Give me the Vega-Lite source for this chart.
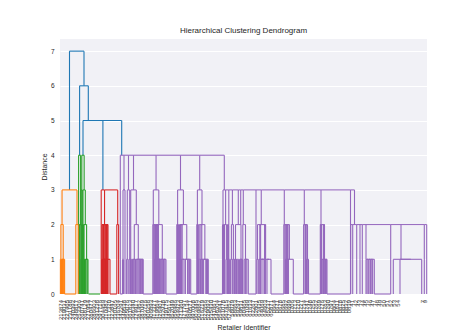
{
  "$schema": "https://vega.github.io/schema/vega-lite/v6.json",
  "width": 367,
  "height": 255,
  "autosize": "none",
  "padding": {"left": 60, "top": 39, "right": 47, "bottom": 37},
  "background": "white",
  "title": {"text": "Hierarchical Clustering Dendrogram", "fontSize": 8, "fontWeight": "normal", "color": "#262626", "font": "Liberation Sans", "frame": "group", "offset": 4},
  "config": {
    "view": {"fill": "#F1F1F6", "stroke": null},
    "font": "Liberation Sans",
    "axis": {"labelFont": "Liberation Sans", "titleFont": "Liberation Sans", "labelColor": "#262626", "titleColor": "#262626", "titleFontWeight": "normal", "ticks": false, "domain": false, "gridColor": "#ffffff", "gridWidth": 1},
    "axisX": {"labels": false, "grid": false, "titleFontSize": 7, "titlePadding": 29},
    "axisY": {"labelFontSize": 6.5, "titleFontSize": 7, "labelPadding": 6, "titlePadding": 3, "tickCount": 8, "labelOverlap": false}
  },
  "datasets": {
    "links": [
      {"a": 9.5, "ya": 3, "b": 24, "yb": 6, "h": 7, "c": "C0"},
      {"a": 19.6, "ya": 4, "b": 28.3, "yb": 5, "h": 6, "c": "C0"},
      {"a": 23.0, "ya": 4, "b": 42.9, "yb": 3, "h": 5, "c": "C0"},
      {"a": 28.3, "ya": 5, "b": 61.7, "yb": 4, "h": 5, "c": "C0"},
      {"a": 0.4, "ya": 0, "b": 1.4, "yb": 0, "h": 1, "c": "C1"},
      {"a": 1.8, "ya": 0, "b": 4.6, "yb": 0, "h": 1, "c": "C1"},
      {"a": 2.4, "ya": 0, "b": 3.4, "yb": 0, "h": 1, "c": "C1"},
      {"a": 0.9, "ya": 1, "b": 3.2, "yb": 1, "h": 2, "c": "C1"},
      {"a": 15.8, "ya": 0, "b": 18.2, "yb": 0, "h": 2, "c": "C1"},
      {"a": 2.05, "ya": 2, "b": 17.0, "yb": 2, "h": 3, "c": "C1"},
      {"a": 4.6, "ya": 0, "b": 15.8, "yb": 0, "h": 0, "c": "C1"},
      {"a": 18.6, "ya": 0, "b": 20.6, "yb": 2, "h": 4, "c": "C2"},
      {"a": 19.1, "ya": 0, "b": 19.7, "yb": 0, "h": 2, "c": "C2"},
      {"a": 20.0, "ya": 0, "b": 21.2, "yb": 0, "h": 2, "c": "C2"},
      {"a": 21.8, "ya": 3, "b": 24.15, "yb": 3, "h": 4, "c": "C2"},
      {"a": 21.3, "ya": 1, "b": 22.3, "yb": 0, "h": 3, "c": "C2"},
      {"a": 20.9, "ya": 0, "b": 21.7, "yb": 0, "h": 1, "c": "C2"},
      {"a": 23.0, "ya": 2, "b": 25.3, "yb": 2, "h": 3, "c": "C2"},
      {"a": 22.4, "ya": 0, "b": 23.6, "yb": 0, "h": 2, "c": "C2"},
      {"a": 24.0, "ya": 0, "b": 26.6, "yb": 1, "h": 2, "c": "C2"},
      {"a": 24.6, "ya": 0, "b": 25.0, "yb": 0, "h": 1, "c": "C2"},
      {"a": 25.2, "ya": 0, "b": 28.0, "yb": 0, "h": 1, "c": "C2"},
      {"a": 26.0, "ya": 0, "b": 27.2, "yb": 0, "h": 1, "c": "C2"},
      {"a": 28.6, "ya": 0, "b": 40.0, "yb": 0, "h": 0, "c": "C2"},
      {"a": 41.6, "ya": 0, "b": 42.4, "yb": 0, "h": 1, "c": "C3"},
      {"a": 43.0, "ya": 0, "b": 45.4, "yb": 0, "h": 1, "c": "C3"},
      {"a": 43.8, "ya": 0, "b": 44.8, "yb": 0, "h": 1, "c": "C3"},
      {"a": 44.2, "ya": 1, "b": 50.0, "yb": 0, "h": 1, "c": "C3"},
      {"a": 46.0, "ya": 0, "b": 47.6, "yb": 0, "h": 1, "c": "C3"},
      {"a": 42.8, "ya": 0, "b": 43.5, "yb": 0, "h": 2, "c": "C3"},
      {"a": 44.1, "ya": 0, "b": 45.0, "yb": 0, "h": 2, "c": "C3"},
      {"a": 45.7, "ya": 0, "b": 46.5, "yb": 0, "h": 2, "c": "C3"},
      {"a": 47.0, "ya": 0, "b": 48.0, "yb": 0, "h": 2, "c": "C3"},
      {"a": 42.0, "ya": 1, "b": 47.1, "yb": 1, "h": 2, "c": "C3"},
      {"a": 41.2, "ya": 0, "b": 44.55, "yb": 2, "h": 3, "c": "C3"},
      {"a": 56.8, "ya": 0, "b": 58.6, "yb": 0, "h": 2, "c": "C3"},
      {"a": 44.55, "ya": 3, "b": 57.7, "yb": 2, "h": 3, "c": "C3"},
      {"a": 50.0, "ya": 0, "b": 56.8, "yb": 0, "h": 0, "c": "C3"},
      {"a": 60.3, "ya": 0, "b": 64.0, "yb": 3, "h": 4, "c": "C4"},
      {"a": 63.0, "ya": 1, "b": 65.0, "yb": 0, "h": 3, "c": "C4"},
      {"a": 62.5, "ya": 0, "b": 63.5, "yb": 0, "h": 1, "c": "C4"},
      {"a": 64.0, "ya": 4, "b": 68.5, "yb": 3, "h": 4, "c": "C4"},
      {"a": 67.3, "ya": 1, "b": 69.7, "yb": 1, "h": 3, "c": "C4"},
      {"a": 66.6, "ya": 0, "b": 68.0, "yb": 0, "h": 1, "c": "C4"},
      {"a": 69.0, "ya": 0, "b": 70.4, "yb": 0, "h": 1, "c": "C4"},
      {"a": 68.5, "ya": 4, "b": 73.5, "yb": 3, "h": 4, "c": "C4"},
      {"a": 70.7, "ya": 1, "b": 76.3, "yb": 2, "h": 3, "c": "C4"},
      {"a": 70.2, "ya": 0, "b": 71.2, "yb": 0, "h": 1, "c": "C4"},
      {"a": 71.8, "ya": 0, "b": 72.6, "yb": 0, "h": 1, "c": "C4"},
      {"a": 74.3, "ya": 1, "b": 78.3, "yb": 1, "h": 2, "c": "C4"},
      {"a": 73.0, "ya": 0, "b": 75.6, "yb": 0, "h": 1, "c": "C4"},
      {"a": 73.8, "ya": 0, "b": 74.8, "yb": 0, "h": 1, "c": "C4"},
      {"a": 76.0, "ya": 0, "b": 80.6, "yb": 1, "h": 1, "c": "C4"},
      {"a": 77.0, "ya": 0, "b": 78.0, "yb": 0, "h": 1, "c": "C4"},
      {"a": 79.0, "ya": 0, "b": 82.2, "yb": 1, "h": 1, "c": "C4"},
      {"a": 79.8, "ya": 0, "b": 80.4, "yb": 0, "h": 1, "c": "C4"},
      {"a": 81.2, "ya": 0, "b": 83.2, "yb": 0, "h": 1, "c": "C4"},
      {"a": 82.0, "ya": 0, "b": 82.6, "yb": 0, "h": 1, "c": "C4"},
      {"a": 73.5, "ya": 4, "b": 96.05, "yb": 3, "h": 4, "c": "C4"},
      {"a": 92.8, "ya": 0, "b": 93.8, "yb": 0, "h": 2, "c": "C4"},
      {"a": 94.0, "ya": 0, "b": 94.9, "yb": 0, "h": 2, "c": "C4"},
      {"a": 94.6, "ya": 0, "b": 96.0, "yb": 0, "h": 1, "c": "C4"},
      {"a": 95.6, "ya": 0, "b": 96.3, "yb": 0, "h": 2, "c": "C4"},
      {"a": 96.6, "ya": 0, "b": 97.6, "yb": 0, "h": 2, "c": "C4"},
      {"a": 97.9, "ya": 0, "b": 98.4, "yb": 0, "h": 2, "c": "C4"},
      {"a": 97.0, "ya": 0, "b": 100.2, "yb": 0, "h": 1, "c": "C4"},
      {"a": 99.4, "ya": 0, "b": 100.0, "yb": 0, "h": 1, "c": "C4"},
      {"a": 98.6, "ya": 1, "b": 106.0, "yb": 0, "h": 1, "c": "C4"},
      {"a": 101.2, "ya": 0, "b": 103.4, "yb": 0, "h": 1, "c": "C4"},
      {"a": 102.0, "ya": 0, "b": 102.8, "yb": 0, "h": 1, "c": "C4"},
      {"a": 104.0, "ya": 0, "b": 105.0, "yb": 0, "h": 1, "c": "C4"},
      {"a": 95.3, "ya": 1, "b": 102.3, "yb": 1, "h": 2, "c": "C4"},
      {"a": 93.3, "ya": 2, "b": 98.8, "yb": 2, "h": 3, "c": "C4"},
      {"a": 96.05, "ya": 4, "b": 120.5, "yb": 3, "h": 4, "c": "C4"},
      {"a": 116.8, "ya": 0, "b": 118.4, "yb": 0, "h": 2, "c": "C4"},
      {"a": 117.4, "ya": 0, "b": 118.0, "yb": 0, "h": 2, "c": "C4"},
      {"a": 119.2, "ya": 0, "b": 120.8, "yb": 0, "h": 1, "c": "C4"},
      {"a": 119.6, "ya": 0, "b": 120.4, "yb": 0, "h": 2, "c": "C4"},
      {"a": 121.2, "ya": 0, "b": 122.2, "yb": 0, "h": 2, "c": "C4"},
      {"a": 121.6, "ya": 0, "b": 124.0, "yb": 0, "h": 1, "c": "C4"},
      {"a": 122.8, "ya": 1, "b": 130.7, "yb": 0, "h": 1, "c": "C4"},
      {"a": 125.4, "ya": 0, "b": 127.6, "yb": 0, "h": 1, "c": "C4"},
      {"a": 128.2, "ya": 0, "b": 129.4, "yb": 0, "h": 1, "c": "C4"},
      {"a": 120.0, "ya": 1, "b": 126.75, "yb": 1, "h": 2, "c": "C4"},
      {"a": 117.6, "ya": 2, "b": 123.4, "yb": 2, "h": 3, "c": "C4"},
      {"a": 120.5, "ya": 4, "b": 139.7, "yb": 3, "h": 4, "c": "C4"},
      {"a": 136.8, "ya": 0, "b": 138.0, "yb": 0, "h": 2, "c": "C4"},
      {"a": 137.4, "ya": 0, "b": 138.2, "yb": 0, "h": 2, "c": "C4"},
      {"a": 138.6, "ya": 0, "b": 139.8, "yb": 0, "h": 1, "c": "C4"},
      {"a": 140.4, "ya": 0, "b": 142.4, "yb": 0, "h": 1, "c": "C4"},
      {"a": 140.9, "ya": 0, "b": 141.8, "yb": 0, "h": 2, "c": "C4"},
      {"a": 141.4, "ya": 1, "b": 148.3, "yb": 0, "h": 1, "c": "C4"},
      {"a": 143.6, "ya": 0, "b": 145.8, "yb": 0, "h": 1, "c": "C4"},
      {"a": 146.5, "ya": 0, "b": 147.5, "yb": 0, "h": 1, "c": "C4"},
      {"a": 139.2, "ya": 1, "b": 144.85, "yb": 1, "h": 2, "c": "C4"},
      {"a": 137.4, "ya": 2, "b": 142.0, "yb": 2, "h": 3, "c": "C4"},
      {"a": 139.7, "ya": 4, "b": 164.3, "yb": 3, "h": 4, "c": "C4"},
      {"a": 163.0, "ya": 2, "b": 165.6, "yb": 2, "h": 3, "c": "C4"},
      {"a": 162.5, "ya": 0, "b": 163.5, "yb": 0, "h": 2, "c": "C4"},
      {"a": 163.8, "ya": 0, "b": 164.3, "yb": 0, "h": 2, "c": "C4"},
      {"a": 164.6, "ya": 0, "b": 166.6, "yb": 1, "h": 2, "c": "C4"},
      {"a": 166.0, "ya": 0, "b": 167.2, "yb": 0, "h": 1, "c": "C4"},
      {"a": 165.6, "ya": 3, "b": 168.8, "yb": 1, "h": 3, "c": "C4"},
      {"a": 167.6, "ya": 0, "b": 168.4, "yb": 0, "h": 2, "c": "C4"},
      {"a": 168.0, "ya": 0, "b": 169.6, "yb": 0, "h": 1, "c": "C4"},
      {"a": 168.8, "ya": 3, "b": 172.4, "yb": 2, "h": 3, "c": "C4"},
      {"a": 171.4, "ya": 1, "b": 173.4, "yb": 1, "h": 2, "c": "C4"},
      {"a": 170.6, "ya": 0, "b": 172.2, "yb": 0, "h": 1, "c": "C4"},
      {"a": 172.8, "ya": 0, "b": 174.0, "yb": 0, "h": 1, "c": "C4"},
      {"a": 172.4, "ya": 3, "b": 178.3, "yb": 2, "h": 3, "c": "C4"},
      {"a": 175.5, "ya": 1, "b": 181.0, "yb": 1, "h": 2, "c": "C4"},
      {"a": 174.4, "ya": 0, "b": 176.6, "yb": 0, "h": 1, "c": "C4"},
      {"a": 175.2, "ya": 0, "b": 176.0, "yb": 0, "h": 1, "c": "C4"},
      {"a": 177.2, "ya": 0, "b": 178.6, "yb": 0, "h": 1, "c": "C4"},
      {"a": 179.6, "ya": 0, "b": 182.4, "yb": 0, "h": 1, "c": "C4"},
      {"a": 180.4, "ya": 0, "b": 181.6, "yb": 0, "h": 1, "c": "C4"},
      {"a": 178.3, "ya": 3, "b": 180.7, "yb": 2, "h": 3, "c": "C4"},
      {"a": 180.7, "ya": 3, "b": 183.3, "yb": 2, "h": 3, "c": "C4"},
      {"a": 182.8, "ya": 0, "b": 185.5, "yb": 1, "h": 2, "c": "C4"},
      {"a": 184.2, "ya": 0, "b": 186.8, "yb": 0, "h": 1, "c": "C4"},
      {"a": 185.6, "ya": 0, "b": 188.3, "yb": 0, "h": 1, "c": "C4"},
      {"a": 183.3, "ya": 3, "b": 196.0, "yb": 0, "h": 3, "c": "C4"},
      {"a": 196.0, "ya": 3, "b": 201.25, "yb": 2, "h": 3, "c": "C4"},
      {"a": 196.8, "ya": 0, "b": 198.2, "yb": 0, "h": 1, "c": "C4"},
      {"a": 199.0, "ya": 0, "b": 203.0, "yb": 1, "h": 1, "c": "C4"},
      {"a": 199.8, "ya": 0, "b": 200.6, "yb": 0, "h": 2, "c": "C4"},
      {"a": 202.0, "ya": 0, "b": 204.0, "yb": 0, "h": 1, "c": "C4"},
      {"a": 204.6, "ya": 0, "b": 205.6, "yb": 0, "h": 2, "c": "C4"},
      {"a": 207.0, "ya": 0, "b": 211.0, "yb": 0, "h": 1, "c": "C4"},
      {"a": 201.0, "ya": 1, "b": 209.0, "yb": 1, "h": 1, "c": "C4"},
      {"a": 197.5, "ya": 1, "b": 205.0, "yb": 1, "h": 2, "c": "C4"},
      {"a": 201.25, "ya": 3, "b": 224.3, "yb": 2, "h": 3, "c": "C4"},
      {"a": 223.8, "ya": 0, "b": 224.8, "yb": 0, "h": 2, "c": "C4"},
      {"a": 225.8, "ya": 0, "b": 226.4, "yb": 0, "h": 2, "c": "C4"},
      {"a": 227.4, "ya": 0, "b": 228.0, "yb": 0, "h": 2, "c": "C4"},
      {"a": 224.8, "ya": 2, "b": 229.4, "yb": 1, "h": 2, "c": "C4"},
      {"a": 225.5, "ya": 0, "b": 233.3, "yb": 0, "h": 1, "c": "C4"},
      {"a": 226.8, "ya": 0, "b": 228.4, "yb": 0, "h": 1, "c": "C4"},
      {"a": 224.3, "ya": 3, "b": 244.3, "yb": 2, "h": 3, "c": "C4"},
      {"a": 243.6, "ya": 0, "b": 245.0, "yb": 0, "h": 2, "c": "C4"},
      {"a": 245.6, "ya": 0, "b": 246.2, "yb": 0, "h": 2, "c": "C4"},
      {"a": 245.0, "ya": 2, "b": 247.5, "yb": 1, "h": 2, "c": "C4"},
      {"a": 246.5, "ya": 0, "b": 248.5, "yb": 0, "h": 1, "c": "C4"},
      {"a": 247.0, "ya": 0, "b": 247.8, "yb": 0, "h": 1, "c": "C4"},
      {"a": 244.3, "ya": 3, "b": 261.0, "yb": 2, "h": 3, "c": "C4"},
      {"a": 260.3, "ya": 0, "b": 261.7, "yb": 0, "h": 2, "c": "C4"},
      {"a": 260.8, "ya": 0, "b": 261.3, "yb": 0, "h": 2, "c": "C4"},
      {"a": 263.6, "ya": 0, "b": 264.3, "yb": 0, "h": 2, "c": "C4"},
      {"a": 261.7, "ya": 2, "b": 264.5, "yb": 1, "h": 2, "c": "C4"},
      {"a": 262.0, "ya": 0, "b": 267.0, "yb": 0, "h": 1, "c": "C4"},
      {"a": 263.0, "ya": 0, "b": 265.0, "yb": 0, "h": 1, "c": "C4"},
      {"a": 265.6, "ya": 0, "b": 266.3, "yb": 0, "h": 1, "c": "C4"},
      {"a": 261.0, "ya": 3, "b": 290.5, "yb": 0, "h": 3, "c": "C4"},
      {"a": 290.5, "ya": 3, "b": 294.5, "yb": 2, "h": 3, "c": "C4"},
      {"a": 290.7, "ya": 0, "b": 292.7, "yb": 0, "h": 2, "c": "C4"},
      {"a": 292.7, "ya": 2, "b": 296.7, "yb": 0, "h": 2, "c": "C4"},
      {"a": 296.7, "ya": 2, "b": 300.0, "yb": 0, "h": 2, "c": "C4"},
      {"a": 300.0, "ya": 2, "b": 302.3, "yb": 0, "h": 2, "c": "C4"},
      {"a": 302.3, "ya": 2, "b": 306.0, "yb": 1, "h": 2, "c": "C4"},
      {"a": 306.0, "ya": 0, "b": 314.3, "yb": 0, "h": 1, "c": "C4"},
      {"a": 307.0, "ya": 0, "b": 308.2, "yb": 0, "h": 1, "c": "C4"},
      {"a": 309.0, "ya": 0, "b": 310.4, "yb": 0, "h": 1, "c": "C4"},
      {"a": 311.2, "ya": 0, "b": 312.6, "yb": 0, "h": 1, "c": "C4"},
      {"a": 306.0, "ya": 2, "b": 330.7, "yb": 0, "h": 2, "c": "C4"},
      {"a": 330.7, "ya": 2, "b": 341.0, "yb": 1, "h": 2, "c": "C4"},
      {"a": 333.3, "ya": 0, "b": 350.85, "yb": 1, "h": 1, "c": "C4"},
      {"a": 340.0, "ya": 0, "b": 361.7, "yb": 0, "h": 1, "c": "C4"},
      {"a": 341.0, "ya": 2, "b": 364.3, "yb": 0, "h": 2, "c": "C4"},
      {"a": 364.3, "ya": 2, "b": 366.7, "yb": 0, "h": 2, "c": "C4"},
      {"a": 60.3, "ya": 0, "b": 62.5, "yb": 0, "h": 0, "c": "C4"},
      {"a": 83.2, "ya": 0, "b": 92.8, "yb": 0, "h": 0, "c": "C4"},
      {"a": 106.0, "ya": 0, "b": 116.8, "yb": 0, "h": 0, "c": "C4"},
      {"a": 130.7, "ya": 0, "b": 136.8, "yb": 0, "h": 0, "c": "C4"},
      {"a": 148.3, "ya": 0, "b": 162.5, "yb": 0, "h": 0, "c": "C4"},
      {"a": 188.3, "ya": 0, "b": 196.0, "yb": 0, "h": 0, "c": "C4"},
      {"a": 211.0, "ya": 0, "b": 223.8, "yb": 0, "h": 0, "c": "C4"},
      {"a": 233.3, "ya": 0, "b": 243.6, "yb": 0, "h": 0, "c": "C4"},
      {"a": 248.5, "ya": 0, "b": 260.3, "yb": 0, "h": 0, "c": "C4"},
      {"a": 267.0, "ya": 0, "b": 290.5, "yb": 0, "h": 0, "c": "C4"},
      {"a": 314.3, "ya": 0, "b": 330.7, "yb": 0, "h": 0, "c": "C4"}
    ],
    "leaves": [
      {"p": 1, "id": "213874"}, {"p": 4, "id": "219031"}, {"p": 7, "id": "227465"}, {"p": 10, "id": "231188"},
      {"p": 13, "id": "240392"}, {"p": 16, "id": "248817"}, {"p": 19, "id": "253306"}, {"p": 22, "id": "260741"},
      {"p": 25, "id": "268129"}, {"p": 28, "id": "271954"}, {"p": 31, "id": "280477"}, {"p": 34, "id": "286603"},
      {"p": 37, "id": "291238"}, {"p": 40, "id": "297716"}, {"p": 43, "id": "304459"}, {"p": 46, "id": "310982"},
      {"p": 49, "id": "317320"}, {"p": 52, "id": "323847"}, {"p": 55, "id": "330165"}, {"p": 58, "id": "336704"},
      {"p": 61, "id": "342291"}, {"p": 64, "id": "349538"}, {"p": 67, "id": "355076"}, {"p": 70, "id": "361823"},
      {"p": 73, "id": "368340"}, {"p": 76, "id": "374917"}, {"p": 79, "id": "381452"}, {"p": 82, "id": "387069"},
      {"p": 85, "id": "393716"}, {"p": 88, "id": "400258"}, {"p": 91, "id": "406893"}, {"p": 94, "id": "413327"},
      {"p": 97, "id": "419864"}, {"p": 100, "id": "426401"}, {"p": 103, "id": "432938"}, {"p": 106, "id": "439175"},
      {"p": 109, "id": "445612"}, {"p": 112, "id": "452049"}, {"p": 115, "id": "458486"}, {"p": 118, "id": "464923"},
      {"p": 121, "id": "471360"}, {"p": 124, "id": "477797"}, {"p": 127, "id": "484134"}, {"p": 130, "id": "490571"},
      {"p": 133, "id": "497008"}, {"p": 136, "id": "503445"}, {"p": 139, "id": "509882"}, {"p": 142, "id": "516219"},
      {"p": 145, "id": "522656"}, {"p": 148, "id": "529093"}, {"p": 151, "id": "535430"}, {"p": 154, "id": "541867"},
      {"p": 157, "id": "548204"}, {"p": 160, "id": "554641"}, {"p": 163, "id": "561078"}, {"p": 166, "id": "567415"},
      {"p": 169, "id": "573852"}, {"p": 172, "id": "58029"}, {"p": 175, "id": "58663"}, {"p": 178, "id": "59297"},
      {"p": 181, "id": "59831"}, {"p": 184, "id": "60465"}, {"p": 187, "id": "61099"}, {"p": 190, "id": "61633"},
      {"p": 193, "id": "62267"}, {"p": 196, "id": "62801"}, {"p": 199, "id": "63435"}, {"p": 202, "id": "64069"},
      {"p": 205, "id": "64603"}, {"p": 208, "id": "65237"}, {"p": 211, "id": "65871"}, {"p": 214, "id": "0664"},
      {"p": 217, "id": "0671"}, {"p": 220, "id": "0678"}, {"p": 223, "id": "0685"}, {"p": 226, "id": "0692"},
      {"p": 229, "id": "0699"}, {"p": 232, "id": "0706"}, {"p": 235, "id": "0713"}, {"p": 238, "id": "0720"},
      {"p": 241, "id": "0727"}, {"p": 244, "id": "0734"}, {"p": 247, "id": "0741"}, {"p": 250, "id": "0748"},
      {"p": 253, "id": "0755"}, {"p": 256, "id": "0762"}, {"p": 259, "id": "0769"}, {"p": 262, "id": "0776"},
      {"p": 265, "id": "0783"}, {"p": 268, "id": "0790"}, {"p": 271, "id": "0797"}, {"p": 274, "id": "0804"},
      {"p": 277, "id": "0811"}, {"p": 280, "id": "0818"}, {"p": 283, "id": "0825"}, {"p": 286, "id": "0832"},
      {"p": 289, "id": "0839"}, {"p": 292, "id": "41"}, {"p": 295.5, "id": "42"}, {"p": 299, "id": "43"},
      {"p": 302.5, "id": "44"}, {"p": 306, "id": "45"}, {"p": 309.5, "id": "46"}, {"p": 313, "id": "47"},
      {"p": 316.5, "id": "48"}, {"p": 320, "id": "49"}, {"p": 323.5, "id": "50"}, {"p": 327, "id": "51"},
      {"p": 330.5, "id": "52"}, {"p": 334, "id": "53"}, {"p": 337.5, "id": "54"}, {"p": 362.5, "id": "7"},
      {"p": 365, "id": "9"}
    ]
  },
  "layer": [
    {
      "data": {"name": "links"},
      "mark": {"type": "rule", "strokeWidth": 1.1},
      "encoding": {
        "x": {"field": "a", "type": "quantitative", "title": "Retailer Identifier", "scale": {"domain": [0, 367], "nice": false, "zero": false}},
        "y": {"field": "ya", "type": "quantitative", "title": "Distance", "scale": {"domain": [0, 7.35], "nice": false}, "axis": {"values": [0, 1, 2, 3, 4, 5, 6, 7], "tickCount": 8, "labelOverlap": false}},
        "y2": {"field": "h"},
        "color": {"field": "c", "type": "nominal", "scale": {"domain": ["C0", "C1", "C2", "C3", "C4"], "range": ["#1f77b4", "#ff7f0e", "#2ca02c", "#d62728", "#9467bd"]}, "legend": null}
      }
    },
    {
      "data": {"name": "links"},
      "mark": {"type": "rule", "strokeWidth": 1.1},
      "encoding": {
        "x": {"field": "b", "type": "quantitative", "title": "Retailer Identifier"},
        "y": {"field": "yb", "type": "quantitative", "title": "Distance", "axis": {"values": [0, 1, 2, 3, 4, 5, 6, 7], "tickCount": 8, "labelOverlap": false}},
        "y2": {"field": "h"},
        "color": {"field": "c", "type": "nominal", "legend": null}
      }
    },
    {
      "data": {"name": "links"},
      "mark": {"type": "rule", "strokeWidth": 1.1},
      "encoding": {
        "x": {"field": "a", "type": "quantitative", "title": "Retailer Identifier"},
        "x2": {"field": "b"},
        "y": {"field": "h", "type": "quantitative", "title": "Distance", "axis": {"values": [0, 1, 2, 3, 4, 5, 6, 7], "tickCount": 8, "labelOverlap": false}},
        "color": {"field": "c", "type": "nominal", "legend": null}
      }
    },
    {
      "data": {"name": "leaves"},
      "mark": {"type": "text", "angle": 270, "align": "right", "baseline": "middle", "dx": -6, "fontSize": 6, "color": "#3a3a3a", "font": "Liberation Sans"},
      "encoding": {
        "x": {"field": "p", "type": "quantitative", "title": "Retailer Identifier"},
        "y": {"datum": 0, "type": "quantitative", "title": "Distance", "axis": {"values": [0, 1, 2, 3, 4, 5, 6, 7], "tickCount": 8, "labelOverlap": false}},
        "text": {"field": "id"}
      }
    }
  ]
}
